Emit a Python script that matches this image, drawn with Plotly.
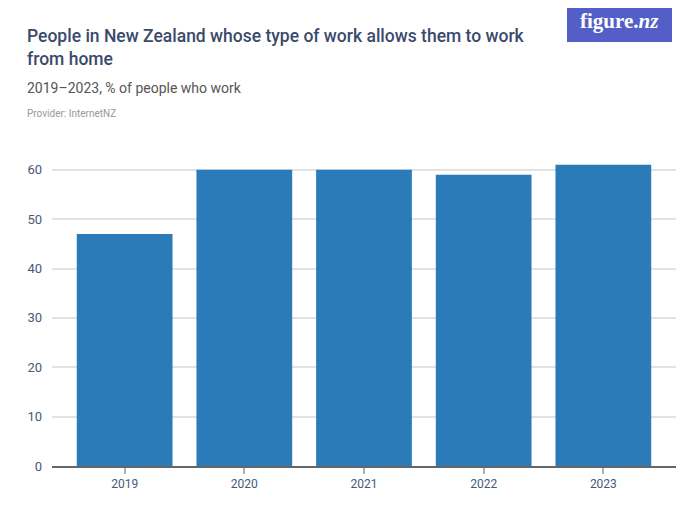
import plotly.graph_objects as go

years = ["2019", "2020", "2021", "2022", "2023"]
values = [47, 60, 60, 59, 61]
y_ticks = [0, 10, 20, 30, 40, 50, 60]

FONT = "Roboto, Arial, sans-serif"
TITLE_C = "#3a4a6b"
TICK_C = "#4a5878"

# page offset (browser body margin)
OX, OY = 8, 8
W, H = 700, 525
# target screen coords of the plot area
SL, SR, ST, SB = 52, 676, 155, 466
l, t = SL - OX, ST - OY
r = W - (SR - OX)
b = H - (SB - OY)
pw, ph = W - l - r, H - t - b


def px(x):
    return (x - OX - l) / pw


def py(y):
    return (H - b - (y - OY)) / ph


fig = go.Figure(go.Bar(x=years, y=values, marker=dict(color="#2b7bb9", line=dict(width=0)),
                       width=0.8, hoverinfo="x+y"))

fig.update_layout(
    width=W, height=H,
    margin=dict(l=l, r=r, t=t, b=b, autoexpand=False),
    paper_bgcolor="white", plot_bgcolor="white",
    showlegend=False,
    font=dict(family=FONT, color=TICK_C, size=13),
    xaxis=dict(type="category", range=[-0.607, 4.607], showgrid=False, automargin=False,
               showline=True, linecolor="#666666", linewidth=1.5,
               ticks="outside", ticklen=6, tickcolor="#b0b0b0", tickwidth=2,
               tickfont=dict(size=12, color=TICK_C, family=FONT)),
    yaxis=dict(range=[0, 63], tickvals=y_ticks, showgrid=True, gridcolor="#e2e2e2",
               gridwidth=1.5, zeroline=False, showline=False, ticks="", automargin=False,
               ticklabelstandoff=9,
               tickfont=dict(size=13, color=TICK_C, family=FONT)),
)

fig.add_annotation(text="People in New Zealand whose type of work allows them to work<br>from home",
                   x=px(25), y=py(24), xref="paper", yref="paper", showarrow=False,
                   xanchor="left", yanchor="top", align="left",
                   font=dict(size=17.5, color=TITLE_C, family=FONT, weight=500))
fig.add_annotation(text="2019–2023, % of people who work",
                   x=px(25), y=py(78), xref="paper", yref="paper", showarrow=False,
                   xanchor="left", yanchor="top", align="left",
                   font=dict(size=14, color="#555555", family=FONT))
fig.add_annotation(text="Provider: InternetNZ",
                   x=px(25), y=py(106), xref="paper", yref="paper", showarrow=False,
                   xanchor="left", yanchor="top", align="left",
                   font=dict(size=10, color="#999999", family=FONT))
fig.add_shape(type="rect", xref="paper", yref="paper",
              x0=px(567), x1=px(672), y0=py(-10), y1=py(42),
              fillcolor="#535fc6", line=dict(width=0), layer="above")
fig.add_annotation(text="<b>figure.<i>nz</i></b>",
                   x=px(619.5), y=py(21), xref="paper", yref="paper", showarrow=False,
                   xanchor="center", yanchor="middle",
                   font=dict(size=21, color="white", family="Liberation Serif, DejaVu Serif, serif"))

fig.write_html("out.html")
